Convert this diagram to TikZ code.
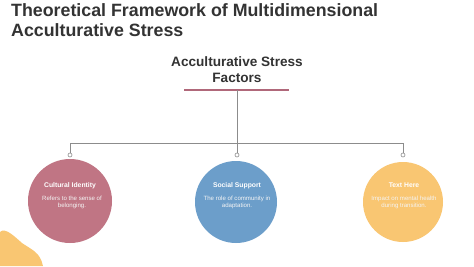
\documentclass[tikz,border=0pt]{standalone}
\usepackage{fontspec}
\setmainfont{Liberation Sans}
\definecolor{titlegray}{RGB}{51,51,51}
\definecolor{rosec}{RGB}{192,117,132}
\definecolor{bluec}{RGB}{108,158,202}
\definecolor{yellc}{RGB}{249,198,114}
\definecolor{mauvec}{RGB}{176,104,122}
\definecolor{linec}{RGB}{140,140,140}
\begin{document}
\begin{tikzpicture}[x=1pt,y=-1pt,
  blob/.style={circle,inner sep=0pt},
  ctitle/.style={text=white,font=\bfseries\fontsize{6.8}{8}\selectfont,inner sep=0pt},
  cdesc/.style={text=white!92!gray,font=\fontsize{6.1}{7.4}\selectfont,align=center,inner sep=0pt},
  dotn/.style={circle,draw=linec,fill=white,line width=0.6pt,minimum size=4pt,inner sep=0pt},
  conn/.style={draw=linec,line width=0.7pt}]
\useasboundingbox (0,0) rectangle (474,266);
\fill[white] (0,0) rectangle (474,266);
% title
\node[anchor=base west,inner sep=0pt,text=titlegray,align=left,font=\bfseries\fontsize{17.8}{19.8}\selectfont] (title) at (11,36.3) {Theoretical Framework of Multidimensional\\Acculturative Stress};
% yellow corner
\fill[yellc] (0,232) .. controls (5,227) and (14,236) .. (22,243) .. controls (32,250) and (40,252) .. (43,266) -- (0,266) -- cycle;
% subtitle
\node[anchor=base,inner sep=0pt,text=titlegray,align=center,font=\bfseries\fontsize{13.6}{15.5}\selectfont] (sub) at (237,82.2) {Acculturative Stress\\Factors};
\coordinate (ul) at (184,90);
\coordinate (ur) at (289,90);
\coordinate (um) at (237,90);
\draw[mauvec,line width=1.6pt] (ul) -- (ur);
% circles
\node[blob,fill=rosec,minimum size=84pt] (c1) at (70,201) {};
\node[blob,fill=bluec,minimum size=82pt] (c2) at (236,202) {};
\node[blob,fill=yellc,minimum size=80pt] (c3) at (403,202) {};
% dots
\node[dotn] (d1) at (70,155) {};
\node[dotn] (d2) at (237,155) {};
\node[dotn] (d3) at (403,155) {};
\coordinate (j1) at (70,143);
\coordinate (j2) at (237,143);
\coordinate (j3) at (403,143);
\draw[conn] (um) -- (j2);
\draw[conn] (j1) -- (j3);
\draw[conn] (j1) -- (d1.north);
\draw[conn] (j2) -- (d2.north);
\draw[conn] (j3) -- (d3.north);
% texts
\node[ctitle,anchor=base] (t1) at (70,187) {Cultural Identity};
\node[cdesc,anchor=base] (s1) at (72,207.4) {Refers to the sense of\\belonging.};
\node[ctitle,anchor=base] (t2) at (237,187) {Social Support};
\node[cdesc,anchor=base] (s2) at (237,207.4) {The role of community in\\adaptation.};
\node[ctitle,anchor=base] (t3) at (404,187) {Text Here};
\node[cdesc,anchor=base] (s3) at (404,207.4) {Impact on mental health\\during transition.};
\end{tikzpicture}
\end{document}
